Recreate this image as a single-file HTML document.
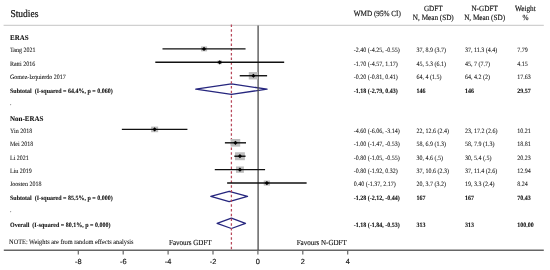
<!DOCTYPE html><html><head><meta charset="utf-8"><style>
html,body{margin:0;padding:0;background:#fff;width:550px;height:270px;overflow:hidden}
svg{display:block;text-rendering:geometricPrecision}
text{font-family:"Liberation Serif","Times New Roman",serif;fill:#111;stroke:#111;stroke-width:0.06px}
.b{font-weight:bold;stroke:#111;stroke-width:0.08px}.st{stroke:#111;stroke-width:0.2px}.h{stroke:#111;stroke-width:0.13px}
.ax{font-family:"Liberation Sans",Arial,sans-serif;stroke:#111;stroke-width:0.15px}
</style></head><body>
<svg width="550" height="270" viewBox="0 0 550 270">
<line x1="3.6" y1="25.4" x2="543.8" y2="25.4" stroke="#d0d0d0" stroke-width="1.3"/>
<line x1="3.8" y1="250.3" x2="543.8" y2="250.3" stroke="#666" stroke-width="1.4"/>
<line x1="78.30" y1="250.3" x2="78.30" y2="254.5" stroke="#666" stroke-width="1.2"/>
<text class="ax" transform="translate(78.30 263.80) scale(1 1.0)" font-size="7.4" text-anchor="middle">-8</text>
<line x1="123.20" y1="250.3" x2="123.20" y2="254.5" stroke="#666" stroke-width="1.2"/>
<text class="ax" transform="translate(123.20 263.80) scale(1 1.0)" font-size="7.4" text-anchor="middle">-6</text>
<line x1="168.10" y1="250.3" x2="168.10" y2="254.5" stroke="#666" stroke-width="1.2"/>
<text class="ax" transform="translate(168.10 263.80) scale(1 1.0)" font-size="7.4" text-anchor="middle">-4</text>
<line x1="213.00" y1="250.3" x2="213.00" y2="254.5" stroke="#666" stroke-width="1.2"/>
<text class="ax" transform="translate(213.00 263.80) scale(1 1.0)" font-size="7.4" text-anchor="middle">-2</text>
<line x1="257.90" y1="250.3" x2="257.90" y2="254.5" stroke="#666" stroke-width="1.2"/>
<text class="ax" transform="translate(257.90 263.80) scale(1 1.0)" font-size="7.4" text-anchor="middle">0</text>
<line x1="302.80" y1="250.3" x2="302.80" y2="254.5" stroke="#666" stroke-width="1.2"/>
<text class="ax" transform="translate(302.80 263.80) scale(1 1.0)" font-size="7.4" text-anchor="middle">2</text>
<line x1="347.70" y1="250.3" x2="347.70" y2="254.5" stroke="#666" stroke-width="1.2"/>
<text class="ax" transform="translate(347.70 263.80) scale(1 1.0)" font-size="7.4" text-anchor="middle">4</text>
<polygon points="195.76,89.15 231.41,83.95 267.05,89.15 231.41,94.35" fill="none" stroke="#26267e" stroke-width="1.3" stroke-linejoin="round"/>
<polygon points="210.81,196.47 229.16,191.27 247.52,196.47 229.16,201.67" fill="none" stroke="#26267e" stroke-width="1.3" stroke-linejoin="round"/>
<polygon points="217.09,223.30 231.41,218.10 245.50,223.30 231.41,228.50" fill="none" stroke="#26267e" stroke-width="1.3" stroke-linejoin="round"/>
<line x1="258.10" y1="25.5" x2="258.10" y2="250" stroke="#4c4c4c" stroke-width="1.3"/>
<line x1="231.41" y1="24.5" x2="231.41" y2="250" stroke="#b8485a" stroke-width="1.25" stroke-dasharray="2.5 2.23"/>
<text class="st" transform="translate(10.40 16.60) scale(1 1.1)" font-size="9.5">Studies</text>
<text class="h" transform="translate(353.80 16.20) scale(1 1.1)" font-size="7.2">WMD (95% CI)</text>
<text class="h" transform="translate(433.30 11.10) scale(1 1.1)" font-size="7.2" text-anchor="middle">GDFT</text>
<text class="h" transform="translate(433.30 19.70) scale(1 1.1)" font-size="7.2" text-anchor="middle">N, Mean (SD)</text>
<text class="h" transform="translate(484.60 11.10) scale(1 1.1)" font-size="7.2" text-anchor="middle">N-GDFT</text>
<text class="h" transform="translate(484.60 19.70) scale(1 1.1)" font-size="7.2" text-anchor="middle">N, Mean (SD)</text>
<text class="h" transform="translate(525.40 11.10) scale(1 1.1)" font-size="7.2" text-anchor="middle">Weight</text>
<text class="h" transform="translate(525.40 19.70) scale(1 1.1)" font-size="7.2" text-anchor="middle">%</text>
<text class="b" transform="translate(10.00 40.09) scale(1 1.04)" font-size="7.0">ERAS</text>
<text transform="translate(10.00 52.30) scale(1 1.1)" font-size="6.0">Tang 2021</text>
<text transform="translate(353.80 52.30) scale(1 1.1)" font-size="6.0">-2.40 (-4.25, -0.55)</text>
<text transform="translate(416.50 52.30) scale(1 1.1)" font-size="6.0">37, 8.9 (3.7)</text>
<text transform="translate(464.90 52.30) scale(1 1.1)" font-size="6.0">37, 11.3 (4.4)</text>
<text transform="translate(517.30 52.30) scale(1 1.1)" font-size="6.0">7.79</text>
<rect x="200.95" y="46.45" width="6.14" height="4.91" fill="#bdbdbd"/>
<line x1="162.49" y1="48.91" x2="245.55" y2="48.91" stroke="#111" stroke-width="1.4"/>
<polygon points="201.92,48.91 204.02,46.80 206.12,48.91 204.02,51.01" fill="#000"/>
<text transform="translate(10.00 65.72) scale(1 1.1)" font-size="6.0">Ratti 2016</text>
<text transform="translate(353.80 65.72) scale(1 1.1)" font-size="6.0">-1.70 (-4.57, 1.17)</text>
<text transform="translate(416.50 65.72) scale(1 1.1)" font-size="6.0">45, 5.3 (6.1)</text>
<text transform="translate(464.90 65.72) scale(1 1.1)" font-size="6.0">45, 7 (7.7)</text>
<text transform="translate(517.30 65.72) scale(1 1.1)" font-size="6.0">4.15</text>
<rect x="217.49" y="60.53" width="4.48" height="3.59" fill="#bdbdbd"/>
<line x1="155.30" y1="62.32" x2="284.17" y2="62.32" stroke="#111" stroke-width="1.4"/>
<polygon points="217.63,62.32 219.73,60.22 221.83,62.32 219.73,64.42" fill="#000"/>
<text transform="translate(10.00 79.14) scale(1 1.1)" font-size="6.0">Gomez-Izquierdo 2017</text>
<text transform="translate(353.80 79.14) scale(1 1.1)" font-size="6.0">-0.20 (-0.81, 0.41)</text>
<text transform="translate(416.50 79.14) scale(1 1.1)" font-size="6.0">64, 4 (1.5)</text>
<text transform="translate(464.90 79.14) scale(1 1.1)" font-size="6.0">64, 4.2 (2)</text>
<text transform="translate(517.30 79.14) scale(1 1.1)" font-size="6.0">17.63</text>
<rect x="248.79" y="72.04" width="9.24" height="7.39" fill="#bdbdbd"/>
<line x1="239.72" y1="75.73" x2="267.10" y2="75.73" stroke="#111" stroke-width="1.4"/>
<polygon points="251.31,75.73 253.41,73.64 255.51,75.73 253.41,77.83" fill="#000"/>
<text class="b" transform="translate(10.00 92.55) scale(1 1.1)" font-size="6.0">Subtotal&#160; (I-squared = 64.4%, p = 0.060)</text>
<text class="b" transform="translate(353.80 92.55) scale(1 1.1)" font-size="6.0">-1.18 (-2.79, 0.43)</text>
<text class="b" transform="translate(416.50 92.55) scale(1 1.1)" font-size="6.0">146</text>
<text class="b" transform="translate(464.90 92.55) scale(1 1.1)" font-size="6.0">146</text>
<text class="b" transform="translate(517.30 92.55) scale(1 1.1)" font-size="6.0">29.57</text>
<text transform="translate(10.00 104.77) scale(1 1.1)" font-size="6.0">.</text>
<text class="b" transform="translate(10.00 120.58) scale(1 1.04)" font-size="7.0">Non-ERAS</text>
<text transform="translate(10.00 132.80) scale(1 1.1)" font-size="6.0">Yin 2018</text>
<text transform="translate(353.80 132.80) scale(1 1.1)" font-size="6.0">-4.60 (-6.06, -3.14)</text>
<text transform="translate(416.50 132.80) scale(1 1.1)" font-size="6.0">22, 12.6 (2.4)</text>
<text transform="translate(464.90 132.80) scale(1 1.1)" font-size="6.0">23, 17.2 (2.6)</text>
<text transform="translate(517.30 132.80) scale(1 1.1)" font-size="6.0">10.21</text>
<rect x="151.12" y="126.58" width="7.03" height="5.62" fill="#bdbdbd"/>
<line x1="121.85" y1="129.40" x2="187.41" y2="129.40" stroke="#111" stroke-width="1.4"/>
<polygon points="152.53,129.40 154.63,127.30 156.73,129.40 154.63,131.50" fill="#000"/>
<text transform="translate(10.00 146.21) scale(1 1.1)" font-size="6.0">Mei 2018</text>
<text transform="translate(353.80 146.21) scale(1 1.1)" font-size="6.0">-1.00 (-1.47, -0.53)</text>
<text transform="translate(416.50 146.21) scale(1 1.1)" font-size="6.0">58, 6.9 (1.3)</text>
<text transform="translate(464.90 146.21) scale(1 1.1)" font-size="6.0">58, 7.9 (1.3)</text>
<text transform="translate(517.30 146.21) scale(1 1.1)" font-size="6.0">18.81</text>
<rect x="230.68" y="138.99" width="9.54" height="7.63" fill="#bdbdbd"/>
<line x1="224.90" y1="142.81" x2="246.00" y2="142.81" stroke="#111" stroke-width="1.4"/>
<polygon points="233.35,142.81 235.45,140.71 237.55,142.81 235.45,144.91" fill="#000"/>
<text transform="translate(10.00 159.62) scale(1 1.1)" font-size="6.0">Li 2021</text>
<text transform="translate(353.80 159.62) scale(1 1.1)" font-size="6.0">-0.80 (-1.05, -0.55)</text>
<text transform="translate(416.50 159.62) scale(1 1.1)" font-size="6.0">30, 4.6 (.5)</text>
<text transform="translate(464.90 159.62) scale(1 1.1)" font-size="6.0">30, 5.4 (.5)</text>
<text transform="translate(517.30 159.62) scale(1 1.1)" font-size="6.0">20.23</text>
<rect x="234.99" y="152.27" width="9.90" height="7.92" fill="#bdbdbd"/>
<line x1="234.33" y1="156.22" x2="245.55" y2="156.22" stroke="#111" stroke-width="1.4"/>
<polygon points="237.84,156.22 239.94,154.12 242.04,156.22 239.94,158.32" fill="#000"/>
<text transform="translate(10.00 173.04) scale(1 1.1)" font-size="6.0">Liu 2019</text>
<text transform="translate(353.80 173.04) scale(1 1.1)" font-size="6.0">-0.80 (-1.92, 0.32)</text>
<text transform="translate(416.50 173.04) scale(1 1.1)" font-size="6.0">37, 10.6 (2.3)</text>
<text transform="translate(464.90 173.04) scale(1 1.1)" font-size="6.0">37, 11.4 (2.6)</text>
<text transform="translate(517.30 173.04) scale(1 1.1)" font-size="6.0">12.94</text>
<rect x="235.98" y="166.47" width="7.91" height="6.33" fill="#bdbdbd"/>
<line x1="214.80" y1="169.64" x2="265.08" y2="169.64" stroke="#111" stroke-width="1.4"/>
<polygon points="237.84,169.64 239.94,167.54 242.04,169.64 239.94,171.74" fill="#000"/>
<text transform="translate(10.00 186.46) scale(1 1.1)" font-size="6.0">Joosten 2018</text>
<text transform="translate(353.80 186.46) scale(1 1.1)" font-size="6.0">0.40 (-1.37, 2.17)</text>
<text transform="translate(416.50 186.46) scale(1 1.1)" font-size="6.0">20, 3.7 (3.2)</text>
<text transform="translate(464.90 186.46) scale(1 1.1)" font-size="6.0">19, 3.3 (2.4)</text>
<text transform="translate(517.30 186.46) scale(1 1.1)" font-size="6.0">8.24</text>
<rect x="263.72" y="180.53" width="6.32" height="5.05" fill="#bdbdbd"/>
<line x1="227.14" y1="183.06" x2="306.62" y2="183.06" stroke="#111" stroke-width="1.4"/>
<polygon points="264.78,183.06 266.88,180.96 268.98,183.06 266.88,185.16" fill="#000"/>
<text class="b" transform="translate(10.00 199.87) scale(1 1.1)" font-size="6.0">Subtotal&#160; (I-squared = 85.5%, p = 0.000)</text>
<text class="b" transform="translate(353.80 199.87) scale(1 1.1)" font-size="6.0">-1.28 (-2.12, -0.44)</text>
<text class="b" transform="translate(416.50 199.87) scale(1 1.1)" font-size="6.0">167</text>
<text class="b" transform="translate(464.90 199.87) scale(1 1.1)" font-size="6.0">167</text>
<text class="b" transform="translate(517.30 199.87) scale(1 1.1)" font-size="6.0">70.43</text>
<text transform="translate(10.00 212.08) scale(1 1.1)" font-size="6.0">.</text>
<text class="b" transform="translate(10.00 226.70) scale(1 1.1)" font-size="6.0">Overall&#160; (I-squared = 80.1%, p = 0.000)</text>
<text class="b" transform="translate(353.80 226.70) scale(1 1.1)" font-size="6.0">-1.18 (-1.84, -0.53)</text>
<text class="b" transform="translate(416.50 226.70) scale(1 1.1)" font-size="6.0">313</text>
<text class="b" transform="translate(464.90 226.70) scale(1 1.1)" font-size="6.0">313</text>
<text class="b" transform="translate(517.30 226.70) scale(1 1.1)" font-size="6.0">100.00</text>
<text transform="translate(9.10 244.00) scale(1 1.1)" font-size="6.3">NOTE: Weights are from random effects analysis</text>
<text class="h" transform="translate(169.00 244.80) scale(1 1.1)" font-size="7">Favours GDFT</text>
<text class="h" transform="translate(296.70 245.10) scale(1 1.1)" font-size="7">Favours N-GDFT</text>
</svg></body></html>
